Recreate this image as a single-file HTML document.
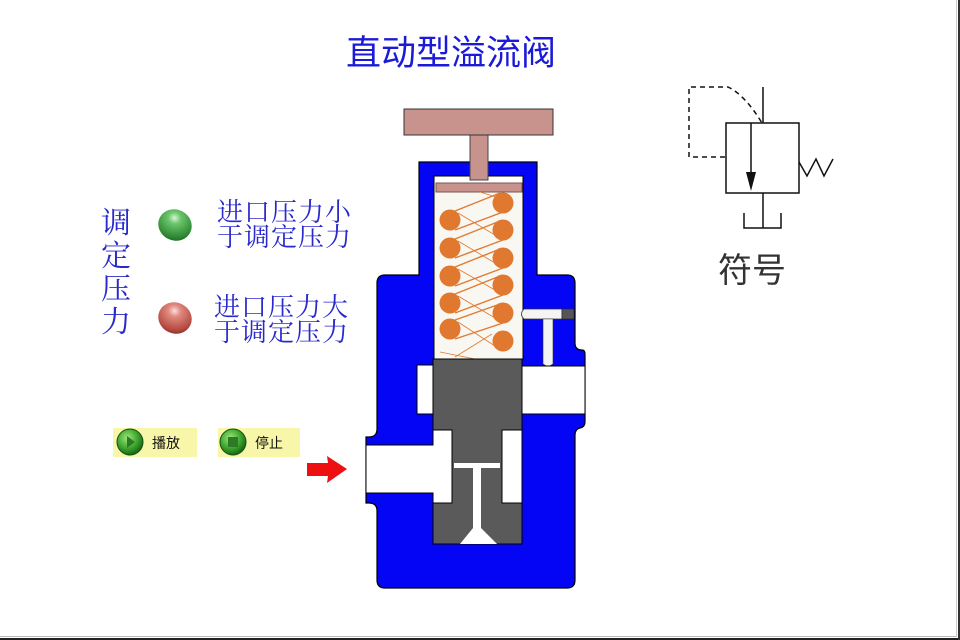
<!DOCTYPE html>
<html><head><meta charset="utf-8"><style>
html,body{margin:0;padding:0;background:#fff;}
svg{display:block;}
</style></head><body>
<svg width="960" height="640" viewBox="0 0 960 640" xmlns="http://www.w3.org/2000/svg">
<defs>
<radialGradient id="gball" cx="0.4" cy="0.3" r="0.75">
<stop offset="0" stop-color="#d8f5d8"/><stop offset="0.25" stop-color="#6cc66c"/><stop offset="0.8" stop-color="#2f8a35"/><stop offset="1" stop-color="#1f6a25"/></radialGradient>
<radialGradient id="rball" cx="0.4" cy="0.3" r="0.75">
<stop offset="0" stop-color="#fbe0dc"/><stop offset="0.25" stop-color="#e08a80"/><stop offset="0.8" stop-color="#b54a40"/><stop offset="1" stop-color="#8a3028"/></radialGradient>
<radialGradient id="btn" cx="0.4" cy="0.35" r="0.7">
<stop offset="0" stop-color="#9be87a"/><stop offset="0.6" stop-color="#3aa02a"/><stop offset="1" stop-color="#125a10"/></radialGradient>
</defs>
<rect width="960" height="640" fill="#fff"/>

<!-- title -->
<text x="346" y="65" font-family="'Liberation Sans','Noto Sans CJK SC',sans-serif" font-size="35" fill="#1a1ad8">直动型溢流阀</text>

<!-- left texts -->
<g font-family="'Liberation Serif','Noto Serif CJK SC',serif" fill="#2a2acc">
<text x="101" y="233" font-size="30">调</text>
<text x="101" y="266" font-size="30">定</text>
<text x="101" y="299" font-size="30">压</text>
<text x="101" y="332" font-size="30">力</text>
<text x="217" y="221" font-size="26" letter-spacing="1">进口压力小</text>
<text x="217" y="246" font-size="26" letter-spacing="1">于调定压力</text>
<text x="214" y="316" font-size="26" letter-spacing="1">进口压力大</text>
<text x="214" y="341" font-size="26" letter-spacing="1">于调定压力</text>
</g>
<ellipse cx="175" cy="225" rx="17" ry="15.5" fill="url(#gball)" transform="rotate(25 175 225)"/>
<ellipse cx="175" cy="318" rx="17" ry="15.5" fill="url(#rball)" transform="rotate(25 175 318)"/>

<!-- buttons -->
<rect x="113" y="428" width="84" height="29" fill="#f8f6a8"/>
<circle cx="130" cy="442" r="13" fill="url(#btn)" stroke="#145014" stroke-width="1"/>
<polygon points="127,436 135,442 127,448" fill="#2d7a25"/>
<text x="152" y="448" font-family="'Liberation Sans','Noto Sans CJK SC',sans-serif" font-size="14" fill="#111">播放</text>
<rect x="218" y="428" width="82" height="29" fill="#f8f6a8"/>
<circle cx="233" cy="442" r="13" fill="url(#btn)" stroke="#145014" stroke-width="1"/>
<rect x="228" y="437" width="10" height="10" fill="#2d7a25"/>
<text x="255" y="448" font-family="'Liberation Sans','Noto Sans CJK SC',sans-serif" font-size="14" fill="#111">停止</text>

<!-- red arrow -->
<polygon points="307,463 328,463 327,456 347,469 327,483 328,476 307,476" fill="#ee1010"/>

<!-- valve body -->
<path d="M419,162 H537 V275 H567 Q575,275 575,283 V343 Q575,350 582,350 Q585,350 585,354 V422 Q585,427 580,428 Q575,429 575,435 V580 Q575,588 567,588 H385 Q377,588 377,580 V511 Q377,503 369,503 H366 V437 H369 Q377,437 377,429 V283 Q377,275 385,275 H419 Z" fill="#0505f5" stroke="#000" stroke-width="1.2"/>

<!-- spring cavity -->
<rect x="434" y="176" width="89" height="183" fill="#f9f7f2" stroke="#000" stroke-width="1"/>
<rect x="435" y="177" width="87" height="6" fill="#fff"/>
<rect x="436" y="183" width="86" height="9" fill="#c8938c" stroke="#7a5550" stroke-width="1"/>

<!-- stem & knob -->
<rect x="470" y="135" width="18" height="45" fill="#c8938c" stroke="#444" stroke-width="1"/>
<rect x="404" y="109" width="149" height="26" fill="#c8938c" stroke="#333" stroke-width="1"/>

<!-- spring lines -->
<g stroke="#e07a30" stroke-width="1.4" fill="none">
<line x1="455" y1="211" x2="500" y2="193"/><line x1="455" y1="230" x2="503" y2="212"/>
<line x1="455" y1="239" x2="500" y2="221"/><line x1="455" y1="258" x2="503" y2="240"/>
<line x1="455" y1="267" x2="500" y2="249"/><line x1="455" y1="286" x2="503" y2="268"/>
<line x1="455" y1="294" x2="500" y2="276"/><line x1="455" y1="313" x2="503" y2="295"/>
<line x1="455" y1="320" x2="500" y2="304"/><line x1="455" y1="339" x2="503" y2="323"/>
<line x1="458" y1="213" x2="495" y2="235" stroke-width="0.8"/>
<line x1="458" y1="241" x2="495" y2="263" stroke-width="0.8"/>
<line x1="458" y1="269" x2="495" y2="290" stroke-width="0.8"/>
<line x1="458" y1="296" x2="495" y2="318" stroke-width="0.8"/>
<line x1="458" y1="322" x2="495" y2="346" stroke-width="0.8"/>
<line x1="480" y1="192" x2="496" y2="197" stroke-width="0.8"/>
<line x1="455" y1="357" x2="492" y2="334" stroke-width="0.8"/>
<line x1="440" y1="352" x2="480" y2="360" stroke-width="0.8"/>
</g>
<g fill="#e07830">
<circle cx="450" cy="220" r="10.5"/><circle cx="450" cy="248" r="10.5"/><circle cx="450" cy="276" r="10.5"/><circle cx="450" cy="303" r="10.5"/><circle cx="450" cy="329" r="10.5"/>
<circle cx="503" cy="203" r="10.5"/><circle cx="503" cy="230" r="10.5"/><circle cx="503" cy="258" r="10.5"/><circle cx="503" cy="285" r="10.5"/><circle cx="503" cy="313" r="10.5"/><circle cx="503" cy="341" r="10.5"/>
</g>

<!-- drain passage -->
<path d="M524,309 H562 V319 H524 Q519,314 524,309 Z" fill="#f4f4f4" stroke="#333" stroke-width="0.8"/>
<rect x="562" y="309" width="12" height="10" fill="#555" stroke="#222" stroke-width="0.6"/>
<path d="M543,319 H553 V364 L548,367 L543,364 Z" fill="#f4f4f4" stroke="#333" stroke-width="0.6"/>

<!-- spool -->
<rect x="433" y="359" width="89" height="185" fill="#5a5a5a" stroke="#000" stroke-width="1"/>
<rect x="417" y="365" width="16" height="49" fill="#fff" stroke="#000" stroke-width="1"/>
<rect x="522" y="366" width="63" height="48" fill="#fff" stroke="#000" stroke-width="1"/>
<path d="M366,445 H433 V430 H452 V503 H433 V493 H366 Z" fill="#fff" stroke="#000" stroke-width="1"/>
<rect x="502" y="430" width="20" height="73" fill="#fff" stroke="#000" stroke-width="1"/>
<rect x="454" y="463" width="46" height="5" fill="#fff"/>
<rect x="473" y="468" width="8" height="60" fill="#fff"/>
<polygon points="473,528 481,528 497,544 460,544" fill="#fff"/>

<!-- symbol -->
<g stroke="#111" stroke-width="1.5" fill="none">
<rect x="726" y="123" width="73" height="70"/>
<line x1="763" y1="87" x2="763" y2="123"/>
<line x1="751" y1="123" x2="751" y2="175"/>
<path d="M725,157 H689 V87 H728 Q745,95 762,123" stroke-dasharray="5,4"/>
<polyline points="799,162 807,176 816,159 824,176 833,159"/>
<line x1="763" y1="193" x2="763" y2="228"/>
<polyline points="744,213 744,228 781,228 781,213"/>
</g>
<polygon points="746,172 756,172 751,191" fill="#111"/>
<text x="718" y="282" font-family="'Liberation Sans','Noto Sans CJK SC',sans-serif" font-size="34" fill="#333">符号</text>

<!-- frame -->
<rect x="0" y="636" width="957" height="1" fill="#bbb"/>
<rect x="0" y="638" width="960" height="2" fill="#222"/>
<rect x="956" y="0" width="1" height="637" fill="#ccc"/>
<rect x="958" y="0" width="2" height="640" fill="#333"/>
</svg>
</body></html>
